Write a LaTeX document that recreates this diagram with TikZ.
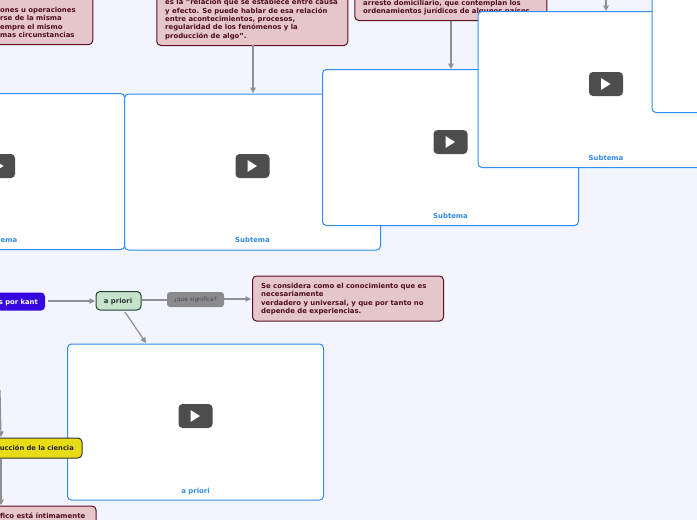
\documentclass[tikz,border=0pt]{standalone}
\usepackage{fontspec}
\setmainfont{DejaVu Sans}
\usetikzlibrary{arrows.meta}
\definecolor{bgc}{HTML}{F2F5FE}
\definecolor{cardb}{HTML}{2F8CF0}
\definecolor{pinkf}{HTML}{E5C6CB}
\definecolor{pinkd}{HTML}{5E0F24}
\definecolor{playc}{HTML}{4D4D4D}
\definecolor{conc}{HTML}{8F8F94}
\definecolor{tagc}{HTML}{8A8A8F}
\definecolor{kantc}{HTML}{3608E0}
\definecolor{greenc}{HTML}{C5E4CB}
\definecolor{greend}{HTML}{1F4030}
\definecolor{yellowc}{HTML}{E8DC14}
\tikzset{
  x=1pt,y=-1pt,
  boxbase/.style={anchor=north west,inner sep=0pt,rounded corners=4pt,line width=1pt},
  card/.style={boxbase,draw=cardb,fill=white},
  pinkbox/.style={boxbase,draw=pinkd,fill=pinkf},
  pinktext/.style={anchor=base west,inner sep=0pt,text=pinkd!85!black,font=\fontsize{6.9}{8}\selectfont\bfseries},
  cardlabel/.style={inner sep=0pt,text=cardb,anchor=base,font=\fontsize{6.9}{8}\selectfont\bfseries},
  play/.style={anchor=center,inner sep=0pt,minimum width=34pt,minimum height=24pt,fill=playc,rounded corners=4pt},
  conn/.style={draw=conc,line width=1.2pt,-{Triangle[length=5.5pt,width=5.5pt]}},
  plain/.style={draw=conc,line width=1.2pt},
  tag/.style={anchor=center,inner sep=0pt,rounded corners=3pt}
}
\begin{document}
\begin{tikzpicture}
\useasboundingbox (0,0) rectangle (697,520);
\clip (0,0) rectangle (697,520);
\fill[bgc] (0,0) rectangle (697,520);

% top pink boxes
\node[pinkbox,minimum width=113pt,minimum height=60pt] (p1) at (-20.7,-16) {};
\node[pinktext] (p1a) at (0,12) {ones u operaciones};
\node[pinktext] (p1b) at (0,20) {rse de la misma};
\node[pinktext] (p1c) at (0,29) {empre el mismo};
\node[pinktext] (p1d) at (0,37) {mas circunstancias};

\node[pinkbox,minimum width=191pt,minimum height=65pt] (p2) at (156.3,-20) {};
\node[pinktext] (p2a) at (165,4) {es la "relación que se establece entre causa};
\node[pinktext] (p2b) at (165,13) {y efecto. Se puede hablar de esa relación};
\node[pinktext] (p2c) at (165,21) {entre acontecimientos, procesos,};
\node[pinktext] (p2d) at (165,29) {regularidad de los fenómenos y la};
\node[pinktext] (p2e) at (165,38) {producción de algo".};

\node[pinkbox,minimum width=192pt,minimum height=40pt] (p3) at (354.3,-20) {};
\node[pinktext] (p3a) at (363,5) {arresto domiciliario, que contemplan los};
\node[pinktext] (p3b) at (363,13) {ordenamientos jurídicos de algunos países};

% cards
\node[card,minimum width=200pt,minimum height=156pt] (c0) at (-75.7,93) {};
\node[play] (pl0) at (-2,166) {};
\fill[white] (-6,160) -- (3.5,166) -- (-6,172) -- cycle;
\node[cardlabel,anchor=base west] (l0) at (0.5,242) {ema};

\node[card,minimum width=256pt,minimum height=156pt] (c1) at (124,93.5) {};
\node[play] (pl1) at (252.5,166) {};
\fill[white] (247.5,160) -- (257,166) -- (247.5,172) -- cycle;
\node[cardlabel] (l1) at (252.5,242) {Subtema};

\node[card,minimum width=256pt,minimum height=156pt] (c2) at (322,69) {};
\node[play] (pl2) at (450.5,142) {};
\fill[white] (445.5,136) -- (455,142) -- (445.5,148) -- cycle;
\node[cardlabel] (l2) at (450.5,218) {Subtema};

\node[card,minimum width=256pt,minimum height=156pt] (c3) at (477.5,11) {};
\node[play] (pl3) at (606,84) {};
\fill[white] (601,78) -- (610.5,84) -- (601,90) -- cycle;
\node[cardlabel] (l3) at (606,160) {Subtema};

\node[card,minimum width=100pt,minimum height=140pt] (c4) at (651.5,-28) {};

\node[card,minimum width=256pt,minimum height=156pt] (c5) at (67,343.5) {};
\node[play] (pl5) at (195.5,416) {};
\fill[white] (190.5,410) -- (200,416) -- (190.5,422) -- cycle;
\node[cardlabel] (l5) at (195.5,493) {a priori};

% lower row
\node[boxbase,fill=kantc,minimum width=80pt,minimum height=18pt] (k) at (-35.5,292) {};
\node[anchor=base east,inner sep=0pt,text=white,font=\fontsize{6.8}{8}\selectfont\bfseries] (kt) at (38,304) {s por kant};
\node[boxbase,draw=greend,fill=greenc,minimum width=45pt,minimum height=18.5pt] (ap) at (95.5,291) {};
\node[anchor=base,inner sep=0pt,text=black!80,font=\fontsize{6.9}{8}\selectfont\bfseries] (apt) at (118,303) {a priori};
\node[tag,fill=tagc,text=black!70,font=\fontsize{5.8}{7}\selectfont,minimum width=57pt,minimum height=15pt] (q) at (195.5,299.5) {¿que significa?};
\node[pinkbox,minimum width=191pt,minimum height=45pt] (p4) at (252,275.5) {};
\node[pinktext] (p4a) at (261,288) {Se considera como el conocimiento que es};
\node[pinktext] (p4b) at (261,296) {necesariamente};
\node[pinktext] (p4c) at (261,305) {verdadero y universal, y que por tanto no};
\node[pinktext] (p4d) at (261,313) {depende de experiencias.};

\node[boxbase,draw=black!80,fill=yellowc,minimum width=120pt,minimum height=20pt] (y) at (-38.5,437.5) {};
\node[anchor=base east,inner sep=0pt,text=black!85,font=\fontsize{6.7}{8}\selectfont\bfseries] (yt) at (74,450) {ucción de la ciencia};
\node[pinkbox,minimum width=136pt,minimum height=40pt] (p5) at (-40.5,505.5) {};
\node[pinktext] (p5a) at (0,518) {fico está íntimamente};

% connectors
\coordinate (t1) at (253,45);
\coordinate (t2) at (253,93);
\coordinate (t3) at (451,21);
\coordinate (t4) at (451,69);
\coordinate (t5) at (606,0);
\coordinate (t6) at (606,11);
\coordinate (a1) at (48,301);
\coordinate (a2) at (95,301);
\coordinate (a3) at (142,300);
\coordinate (a4) at (167,300);
\coordinate (a5) at (224,299);
\coordinate (a6) at (251,299);
\coordinate (a7) at (125,312);
\coordinate (a8) at (146,343);
\coordinate (a9) at (0,390);
\coordinate (a10) at (1,437);
\coordinate (a11) at (1,459);
\coordinate (a12) at (1,505);
\draw[conn] (t1) -- (t2);
\draw[conn] (t3) -- (t4);
\draw[conn] (t5) -- (t6);
\draw[conn] (a1) -- (a2);
\draw[plain] (a3) -- (a4);
\draw[conn] (a5) -- (a6);
\draw[conn] (a7) -- (a8);
\draw[conn] (a9) -- (a10);
\draw[conn] (a11) -- (a12);
\end{tikzpicture}
\end{document}
